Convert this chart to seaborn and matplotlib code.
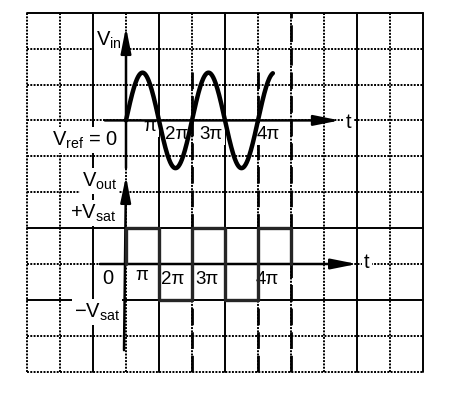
import numpy as np
import pandas as pd
import matplotlib
matplotlib.use('Agg')
import matplotlib.pyplot as plt
import seaborn as sns

# zero-crossing comparator (Vref = 0): sine input, square-wave output
# x is time in units of pi, y is measured in grid rows
vin_offset = 4.0          # Vin axis sits four rows above the Vout axis
vin_amplitude = 1.33
vin_end = 4.45            # input trace stops a little after 4pi
switch_times = [0, 1, 2, 3, 4, 5]
out_levels = [1, -1, 1, -1, 1]   # +Vsat / -Vsat
tick_labels = ['π', '2π', '3π', '4π']
projection_lines = [2, 4, 5]     # heavy dashed helpers

sns.set_theme(style='white')
plt.rcParams['font.family'] = ['Liberation Sans', 'DejaVu Sans']
plt.rcParams['mathtext.default'] = 'regular'

fig = plt.figure(figsize=(4.74, 4.0), dpi=100)
ax = fig.add_axes([0, 0, 1, 1])
ax.set_xlim(-126 / 33, 348 / 33)
ax.set_ylim(-136 / 35.9, 264 / 35.9)
ax.axis('off')

dot = (0, (1, 0.7))
# graph paper
col_styles = ['dot', 'dot', 'solid', 'dot', 'solid', 'dot', 'solid',
              'dot', 'dot', 'dot', 'solid', 'dot', 'solid']
for x, st in zip(range(-3, 10), col_styles):
    ax.plot([x, x], [-3, 7], color='black', zorder=1,
            lw=1.4, ls='-' if st == 'solid' else dot)
row_styles = {7: 'solid', 1: 'solid', -1: 'solid'}
for y in range(-3, 8):
    st = row_styles.get(y, 'dot')
    ax.plot([-3, 9], [y, y], color='black', zorder=1,
            lw=1.4, ls='-' if st == 'solid' else dot)

for x in projection_lines:
    top = 7 if x == 5 else 5.5
    ax.plot([x, x], [-3, top], color='black', lw=2.0, ls=(0, (6, 2.5)), zorder=1.5)

# input sine
t = np.linspace(0, vin_end, 400)
vin = pd.DataFrame({'t': t, 'v': vin_offset + vin_amplitude * np.sin(np.pi * t)})
sns.lineplot(data=vin, x='t', y='v', color='black', lw=3.2, ax=ax,
             sort=False, estimator=None, zorder=6)

# output square wave
xs, ys = [switch_times[0]], [0]
for i, lv in enumerate(out_levels):
    xs += [switch_times[i], switch_times[i + 1]]
    ys += [lv, lv]
xs.append(switch_times[-1])
ys.append(0)
sns.lineplot(x=xs, y=ys, color='#262626', lw=2.4, ax=ax,
             sort=False, estimator=None, zorder=6)

# axes with arrows
arr = dict(arrowstyle='-|>,head_length=1.1,head_width=0.22', color='black',
           lw=1.8, mutation_scale=14, shrinkA=0, shrinkB=0)
ax.annotate('', xy=(0, 6.6), xytext=(0, 2.67), arrowprops=arr, zorder=5)
ax.annotate('', xy=(0, 2.45), xytext=(-0.06, -2.4), arrowprops=arr, zorder=5)
ax.annotate('', xy=(6.48, 4), xytext=(-0.64, 4), arrowprops=arr, zorder=5)
ax.annotate('', xy=(7.0, 0), xytext=(-0.79, 0), arrowprops=arr, zorder=5)

box = dict(facecolor='white', edgecolor='none', pad=1.5)
kw = dict(va='center', color='black', zorder=4, bbox=box)
ax.text(-0.12, 6.24, '$V_{in}$', fontsize=14.5, ha='right', **kw)
ax.text(-0.24, 3.45, '$V_{ref}$ = 0', fontsize=14.5, ha='right', **kw)
ax.text(-0.27, 2.31, '$V_{out}$', fontsize=14.5, ha='right', **kw)
ax.text(-0.30, 1.42, '+$V_{sat}$', fontsize=14.5, ha='right', **kw)
ax.text(-0.18, -1.34, '−$V_{sat}$', fontsize=14.5, ha='right', **kw)
ax.text(-0.55, -0.39, '0', fontsize=14.5, ha='center', **kw)
ax.text(6.73, 3.93, 't', fontsize=14.5, ha='center', **kw)
ax.text(7.30, 0.03, 't', fontsize=14.5, ha='center', **kw)

top_pos = [(0.73, 3.84), (1.55, 3.62), (2.58, 3.62), (4.30, 3.62)]
bot_pos = [(0.48, -0.33), (1.42, -0.42), (2.45, -0.42), (4.27, -0.42)]
for lab, (x, y) in zip(tick_labels, top_pos):
    ax.text(x, y, lab, fontsize=13.5, ha='center', **kw)
for lab, (x, y) in zip(tick_labels, bot_pos):
    ax.text(x, y, lab, fontsize=13.5, ha='center', **kw)

fig.savefig('out.png', dpi=100, facecolor='white')
